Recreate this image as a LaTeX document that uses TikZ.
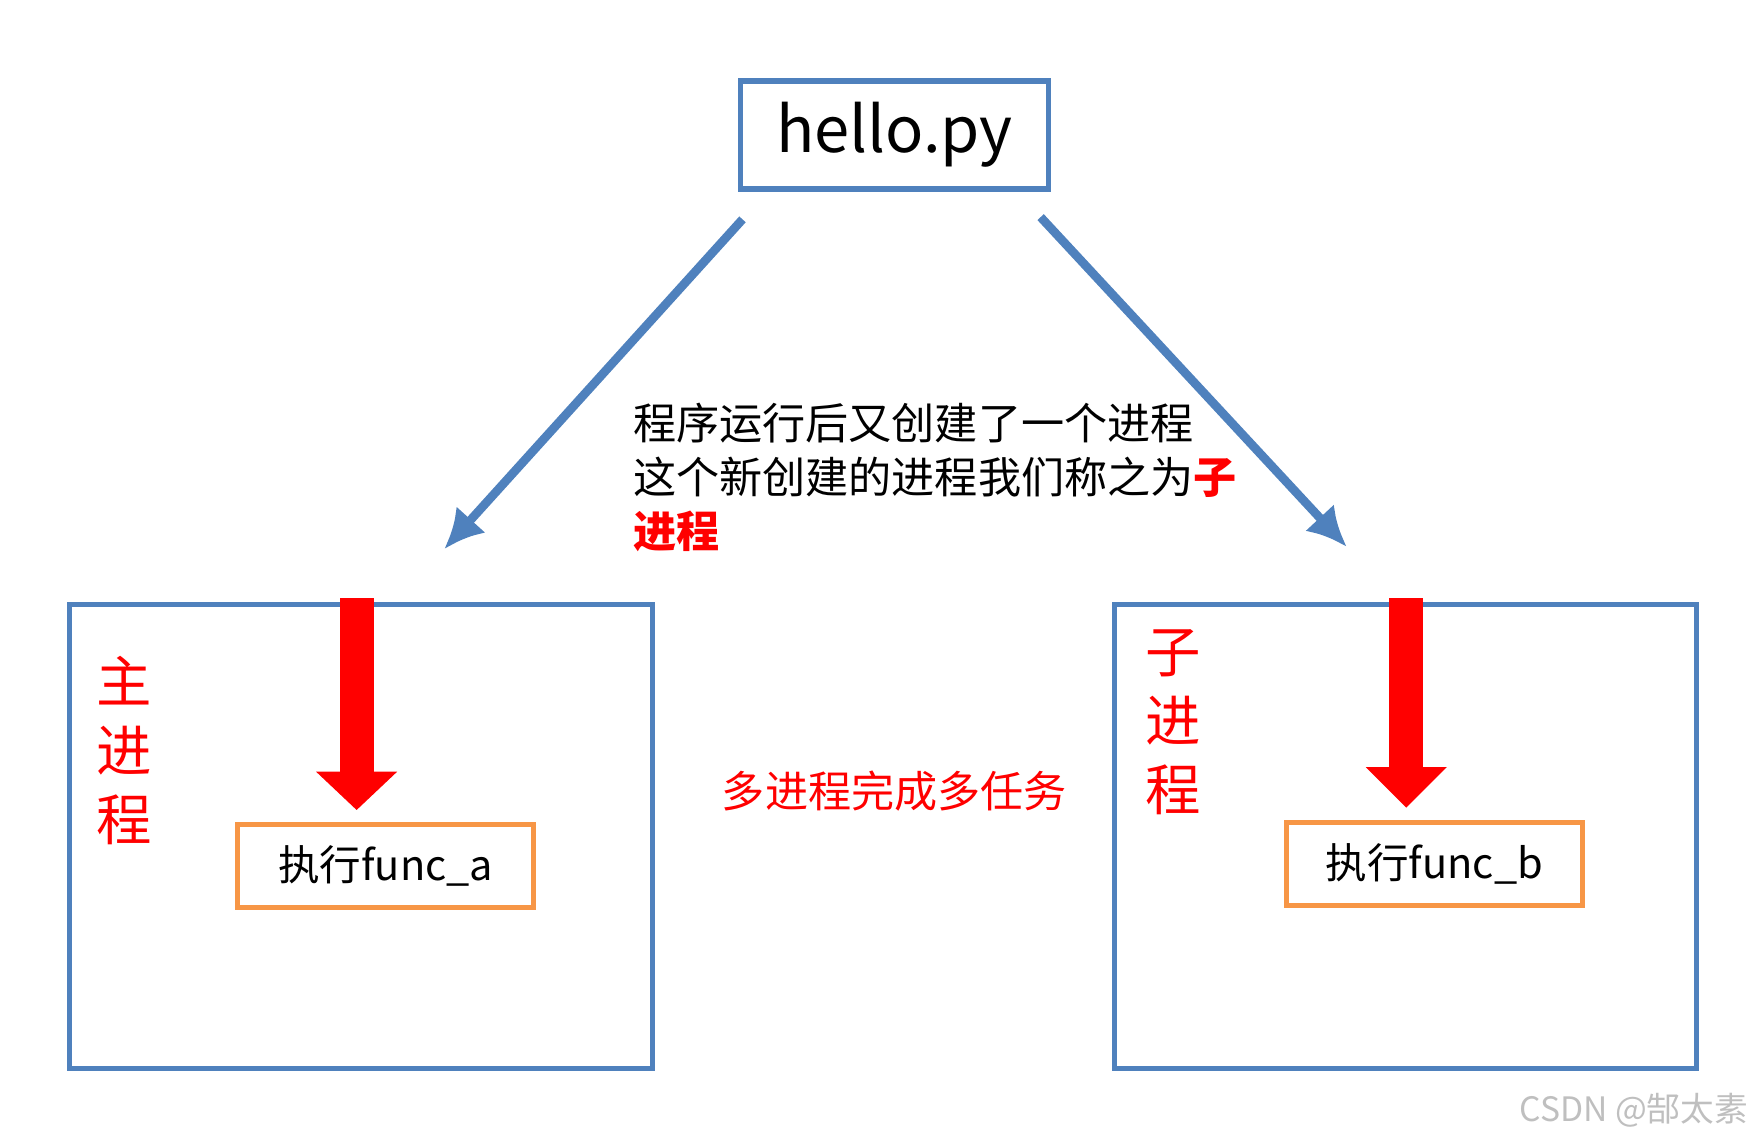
\documentclass[tikz,border=0pt]{standalone}
\usepackage{fontspec}
\setmainfont{Noto Sans CJK SC}
\usetikzlibrary{positioning, arrows.meta}
\definecolor{boxblue}{HTML}{4F81BD}
\definecolor{boxorange}{HTML}{F79646}
\begin{document}
\begin{tikzpicture}[x=0.01cm, y=-0.01cm,
    blue box/.style={draw=boxblue, line width=1.3pt},
    orange box/.style={draw=boxorange, line width=1.3pt, minimum width=2.63cm, minimum height=0.74cm, font=\fontsize{10.5}{12}\selectfont},
    spawn/.style={draw=boxblue, line width=2.2pt, -{Latex[length=0.35cm, width=0.35cm]}}]
    \useasboundingbox (0,0) rectangle (1568,1013);

    \node[blue box, minimum width=2.74cm, minimum height=0.96cm, font=\fontsize{16}{18}\selectfont] (hello) at (795,120) {hello.py};

    \draw[blue box] (62,537) rectangle (580,950);
    \draw[blue box] (991,537) rectangle (1508,950);

    \coordinate (l0) at (660,195);
    \coordinate (l1) at (395,488);
    \coordinate (r0) at (925,193);
    \coordinate (r1) at (1197,486);
    \draw[spawn] (l0) -- (l1);
    \draw[spawn] (r0) -- (r1);

    \node[anchor=north west, align=left, inner sep=0pt, font=\fontsize{10.9}{13.6}\selectfont] (note) at (562,358)
        {程序运行后又创建了一个进程\\这个新创建的进程我们称之为\textcolor{red}{\bfseries 子}\\\textcolor{red}{\bfseries 进程}};

    \node[orange box] (funca) at (343,770) {执行func\_a};
    \node[orange box] (funcb) at (1275,768) {执行func\_b};

    \fill[red] (302,532) rectangle (332,688);
    \fill[red] (281,686) -- (353,686) -- (317,720) -- cycle;
    \fill[red] (1235,532) rectangle (1265,684);
    \fill[red] (1214,682) -- (1286,682) -- (1250,718) -- cycle;

    \node[text=red, align=center, font=\fontsize{14}{17.5}\selectfont] (main) at (110,667) {主\\进\\程};
    \node[text=red, align=center, font=\fontsize{14}{17.5}\selectfont] (child) at (1043,642) {子\\进\\程};

    \node[text=red, font=\fontsize{10.9}{12}\selectfont] (multi) at (795,703) {多进程完成多任务};
    \node[text=black!25, font=\fontsize{8.5}{10}\selectfont, anchor=east] (mark) at (1566,987) {CSDN @郜太素};
\end{tikzpicture}
\end{document}
